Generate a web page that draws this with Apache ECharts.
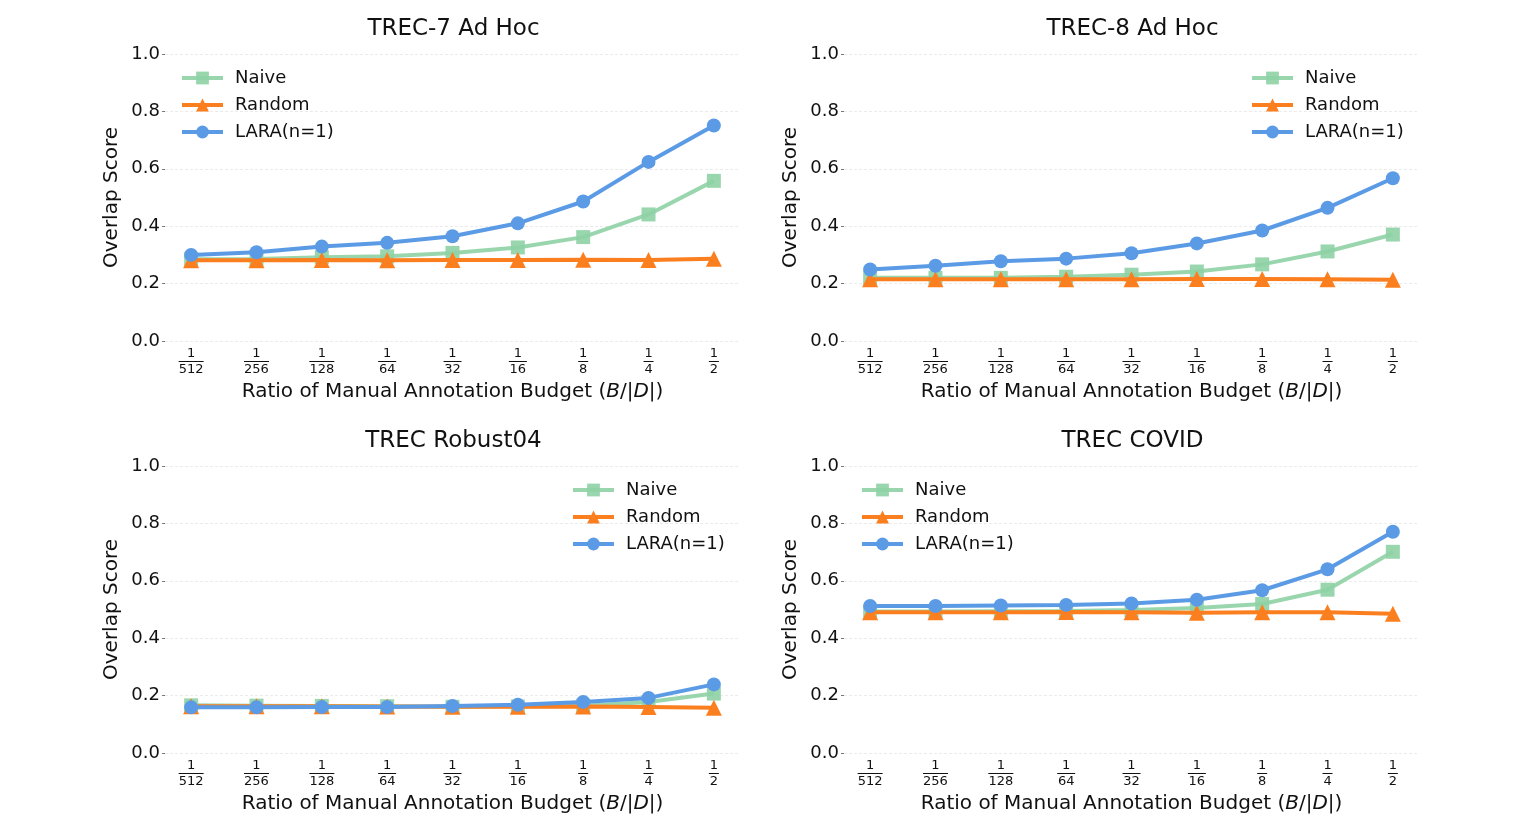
<!DOCTYPE html>
<html>
<head>
<meta charset="utf-8">
<script src="https://cdn.jsdelivr.net/npm/echarts@6/dist/echarts.min.js"></script>
<style>
html,body{margin:0;padding:0;background:#fff;}
#chart{width:1535px;height:838px;}
</style>
</head>
<body>
<div id="chart"></div>
<script>
// ---- data ----
const budgetDenominators = ['512', '256', '128', '64', '32', '16', '8', '4', '2'];
const seriesNames = ['Naive', 'Random', 'LARA(n=1)'];
const panelTitles = ['TREC-7 Ad Hoc', 'TREC-8 Ad Hoc', 'TREC Robust04', 'TREC COVID'];
const yTicks = [0.0, 0.2, 0.4, 0.6, 0.8, 1.0];

const trec7Naive  = [0.285, 0.286, 0.292, 0.295, 0.307, 0.326, 0.362, 0.441, 0.558];
const trec7Random = [0.281, 0.281, 0.282, 0.281, 0.282, 0.282, 0.283, 0.282, 0.287];
const trec7Lara   = [0.300, 0.309, 0.329, 0.342, 0.365, 0.410, 0.486, 0.624, 0.751];

const trec8Naive  = [0.220, 0.220, 0.220, 0.224, 0.231, 0.242, 0.267, 0.312, 0.371];
const trec8Random = [0.215, 0.215, 0.215, 0.215, 0.215, 0.216, 0.216, 0.215, 0.213];
const trec8Lara   = [0.249, 0.262, 0.278, 0.287, 0.306, 0.340, 0.385, 0.464, 0.567];

const robustNaive  = [0.166, 0.165, 0.164, 0.163, 0.161, 0.162, 0.165, 0.178, 0.207];
const robustRandom = [0.163, 0.163, 0.163, 0.162, 0.161, 0.161, 0.162, 0.160, 0.158];
const robustLara   = [0.159, 0.159, 0.160, 0.160, 0.164, 0.168, 0.178, 0.192, 0.239];

const covidNaive  = [0.493, 0.493, 0.494, 0.495, 0.498, 0.505, 0.519, 0.569, 0.701];
const covidRandom = [0.490, 0.490, 0.490, 0.491, 0.490, 0.489, 0.490, 0.490, 0.485];
const covidLara   = [0.512, 0.512, 0.514, 0.516, 0.521, 0.534, 0.567, 0.640, 0.771];

const panelData = [
  [trec7Naive, trec7Random, trec7Lara],
  [trec8Naive, trec8Random, trec8Lara],
  [robustNaive, robustRandom, robustLara],
  [covidNaive, covidRandom, covidLara]
];

// ---- styles ----
const colors = ['#8ED1A5', '#FC7F1F', '#5B9BE5'];
const symbols = ['rect', 'triangle', 'circle'];
const symbolSizes = [14, 16, 14];
const opacities = [0.9, 1, 1];
const FONT = 'DejaVu Sans';

const grids = [
  {left: 165, top: 54, width: 575, height: 287},
  {left: 844, top: 54, width: 575, height: 287},
  {left: 165, top: 466, width: 575, height: 287},
  {left: 844, top: 466, width: 575, height: 287}
];
const legendPos = [
  {left: 180, top: 69},
  {left: 1250, top: 69},
  {left: 571, top: 481},
  {left: 860, top: 481}
];

const chart = echarts.init(document.getElementById('chart'));

const xIdx = budgetDenominators.map((d, i) => i);

const option = {
  backgroundColor: '#fff',
  animation: false,
  title: grids.map((g, i) => ({
    text: panelTitles[i],
    left: g.left + g.width / 2 - 4,
    textAlign: 'center',
    top: g.top - 41,
    textStyle: {fontFamily: FONT, fontSize: 23, fontWeight: 'normal', color: '#111'}
  })),
  legend: grids.map((g, i) => ({
    data: seriesNames,
    orient: 'vertical',
    left: legendPos[i].left,
    top: legendPos[i].top,
    padding: 0,
    itemWidth: 41,
    itemHeight: 16,
    itemGap: 9,
    lineStyle: {width: 4},
    textStyle: {fontFamily: FONT, fontSize: 18, color: '#111', padding: [0, 0, 0, 7]},
    selectedMode: false
  })),
  grid: grids,
  xAxis: grids.map((g, i) => ({
    gridIndex: i,
    type: 'value',
    min: -0.4,
    max: 8.4,
    name: 'Ratio of Manual Annotation Budget ({it|B}/|{it|D}|)',
    nameLocation: 'middle',
    nameGap: 41,
    nameTextStyle: {
      fontFamily: FONT, fontSize: 20, color: '#111',
      rich: {it: {fontFamily: FONT, fontSize: 20, fontStyle: 'italic', color: '#111'}}
    },
    axisLine: {show: false, onZero: false},
    axisTick: {show: false},
    splitLine: {show: false},
    axisLabel: {
      customValues: xIdx,
      margin: 6,
      formatter: function (v) {
        const d = budgetDenominators[Math.round(v)];
        return '{n|1}\n{b' + d.length + '| }\n{d|' + d + '}';
      },
      rich: {
        n: {fontFamily: FONT, fontSize: 13, color: '#111', lineHeight: 13, align: 'center'},
        d: {fontFamily: FONT, fontSize: 13, color: '#111', lineHeight: 13, align: 'center'},
        b1: {width: 10, height: 1, lineHeight: 3, backgroundColor: '#111', fontSize: 1, align: 'center'},
        b2: {width: 18, height: 1, lineHeight: 3, backgroundColor: '#111', fontSize: 1, align: 'center'},
        b3: {width: 25, height: 1, lineHeight: 3, backgroundColor: '#111', fontSize: 1, align: 'center'}
      }
    }
  })),
  yAxis: grids.map((g, i) => ({
    gridIndex: i,
    type: 'value',
    min: 0,
    max: 1,
    interval: 0.2,
    name: 'Overlap Score',
    nameLocation: 'middle',
    nameGap: 43,
    nameTextStyle: {fontFamily: FONT, fontSize: 20, color: '#111'},
    axisLine: {show: false, onZero: false},
    axisTick: {show: true, length: 3, lineStyle: {color: '#555', width: 0.8}},
    axisLabel: {
      fontFamily: FONT, fontSize: 18, color: '#111', margin: 5,
      formatter: v => v.toFixed(1)
    },
    splitLine: {show: true, lineStyle: {color: '#e6e6e6', width: 0.8, type: [3, 2]}}
  })),
  series: []
};

panelData.forEach((arrs, p) => {
  arrs.forEach((vals, s) => {
    option.series.push({
      name: seriesNames[s],
      type: 'line',
      xAxisIndex: p,
      yAxisIndex: p,
      data: vals.map((v, i) => [xIdx[i], v]),
      symbol: symbols[s],
      symbolSize: symbolSizes[s],
      showAllSymbol: true,
      lineStyle: {color: colors[s], width: 4, opacity: opacities[s]},
      itemStyle: {color: colors[s], opacity: opacities[s]},
      z: 2 + s,
      emphasis: {disabled: true}
    });
  });
});

chart.setOption(option);
</script>
</body>
</html>
